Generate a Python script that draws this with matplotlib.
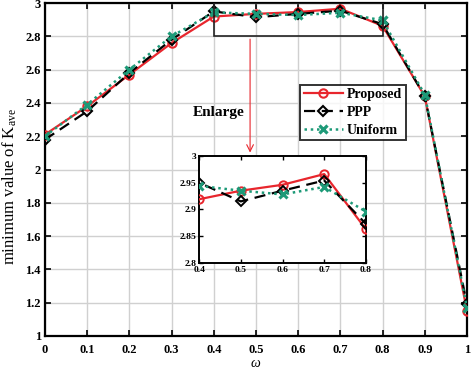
import matplotlib
matplotlib.use("Agg")
import matplotlib.pyplot as plt

plt.rcParams['font.family'] = ['Liberation Serif', 'DejaVu Serif']
plt.rcParams['mathtext.fontset'] = 'custom'
plt.rcParams['mathtext.rm'] = 'Liberation Serif'
plt.rcParams['mathtext.it'] = 'Liberation Serif:italic'

omega = [0, 0.1, 0.2, 0.3, 0.4, 0.5, 0.6, 0.7, 0.8, 0.9, 1.0]
proposed = [2.21, 2.38, 2.57, 2.76, 2.919, 2.935, 2.946, 2.966, 2.863, 2.44, 1.15]
ppp = [2.18, 2.35, 2.58, 2.78, 2.950, 2.915, 2.935, 2.954, 2.873, 2.44, 1.19]
uniform = [2.20, 2.39, 2.60, 2.80, 2.944, 2.935, 2.928, 2.942, 2.896, 2.45, 1.17]

xticks = [0, 0.1, 0.2, 0.3, 0.4, 0.5, 0.6, 0.7, 0.8, 0.9, 1]
xticklabels = ['0', '0.1', '0.2', '0.3', '0.4', '0.5', '0.6', '0.7', '0.8', '0.9', '1']
yticks = [1, 1.2, 1.4, 1.6, 1.8, 2, 2.2, 2.4, 2.6, 2.8, 3]
yticklabels = ['1', '1.2', '1.4', '1.6', '1.8', '2', '2.2', '2.4', '2.6', '2.8', '3']
in_xticks = [0.4, 0.5, 0.6, 0.7, 0.8]
in_xticklabels = ['0.4', '0.5', '0.6', '0.7', '0.8']
in_yticks = [2.8, 2.85, 2.9, 2.95, 3]
in_yticklabels = ['2.8', '2.85', '2.9', '2.95', '3']

RED = '#e8262d'
GREEN = '#1d9a78'

fig = plt.figure(figsize=(4.74, 3.72), dpi=100)
ax = fig.add_axes([0.0949, 0.0968, 0.8903, 0.895])

def draw(a, ms=6, mew=1.5, lw=1.6):
    a.plot(omega, proposed, color=RED, lw=lw, marker='o', ms=ms, mfc='none', mec=RED, mew=mew, label='Proposed', zorder=3)
    a.plot(omega, ppp, color='black', lw=lw, ls=(0, (5, 3)), marker='D', ms=ms*0.8, mfc='none', mec='black', mew=mew, label='PPP', zorder=4)
    a.plot(omega, uniform, color=GREEN, lw=lw+0.2, ls=(0, (1, 1.5)), marker='x', ms=ms, mec=GREEN, mew=mew+0.8, label='Uniform', zorder=5)

draw(ax)
ax.set_xlim(0, 1)
ax.set_ylim(1, 3)
ax.set_xticks(xticks)
ax.set_xticklabels(xticklabels)
ax.set_yticks(yticks)
ax.set_yticklabels(yticklabels)
ax.grid(True, color='#d0d0d0', lw=1.0)
ax.set_axisbelow(True)
ax.tick_params(direction='in', length=4, width=1.2, labelsize=9, top=True, right=True)
ax.tick_params(axis='x', pad=6)
ax.tick_params(axis='y', pad=3)
for lab in ax.get_xticklabels() + ax.get_yticklabels():
    lab.set_fontweight('bold')
for s in ax.spines.values():
    s.set_linewidth(1.6)
ax.set_xlabel(r'$\omega$', fontsize=10)
ax.xaxis.set_label_coords(0.5, -0.062)
ax.set_ylabel(r'minimum value of K$_{\mathrm{ave}}$', fontsize=12)
ax.yaxis.set_label_coords(-0.062, 0.45)

# zoom rectangle
ax.add_patch(plt.Rectangle((0.4, 2.8), 0.4, 0.2, fill=False, ec='#222222', lw=1.2, zorder=6))
ax.annotate('', xy=(0.486, 2.085), xytext=(0.486, 2.8),
            arrowprops=dict(arrowstyle='->', color=RED, lw=0.8, mutation_scale=12), zorder=6)
ax.text(0.412, 2.345, 'Enlarge', fontsize=11, fontweight='bold', ha='center', va='center')

leg = ax.legend(loc='upper left', bbox_to_anchor=(0.605, 0.755), fontsize=10, frameon=True,
                fancybox=False, edgecolor='black', handlelength=2.8, handletextpad=0.3,
                borderpad=0.25, labelspacing=0.35, borderaxespad=0)
leg.get_frame().set_linewidth(1.4)
for t in leg.get_texts():
    t.set_fontweight('bold')

# inset
ins = fig.add_axes([0.42, 0.293, 0.352, 0.288])
draw(ins, ms=6, mew=1.4, lw=1.6)
ins.set_xlim(0.4, 0.8)
ins.set_ylim(2.8, 3.0)
ins.set_xticks(in_xticks)
ins.set_xticklabels(in_xticklabels)
ins.set_yticks(in_yticks)
ins.set_yticklabels(in_yticklabels)
ins.grid(False)
ins.tick_params(direction='in', length=3, width=1.0, labelsize=6.8, top=True, right=True, pad=2)
for lab in ins.get_xticklabels() + ins.get_yticklabels():
    lab.set_fontweight('bold')
for s in ins.spines.values():
    s.set_linewidth(1.4)
ins.set_facecolor('white')

fig.savefig('out.png', dpi=100)
